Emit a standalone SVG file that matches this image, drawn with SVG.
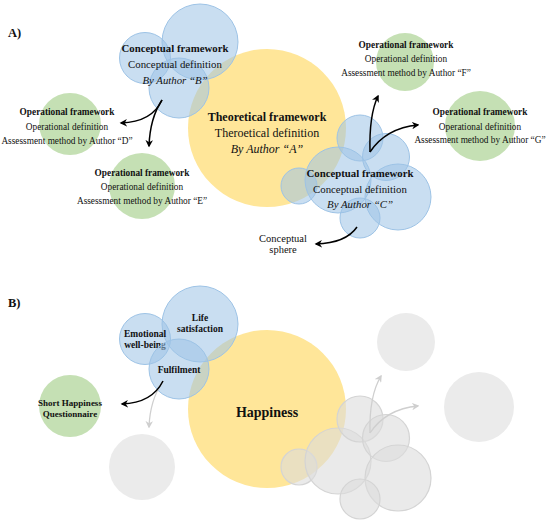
<svg xmlns="http://www.w3.org/2000/svg" width="550" height="524" viewBox="0 0 550 524" font-family="'Liberation Serif', 'DejaVu Serif', serif">
<defs>
<style>
text{fill:#111;text-anchor:middle}
.b{font-weight:bold}
.i{font-style:italic}
.yel{fill:#ffe699}
.grn{fill:#c5e0b4}
.blu{fill:#9dc3e6;fill-opacity:0.55;stroke:#9dc3e6;stroke-width:1}
.gry{fill:#dcdcdc;fill-opacity:0.6;stroke:#d4d4d4;stroke-width:1.2}
.gsolid{fill:#ebebeb}
.ar{fill:none;stroke:#000;stroke-width:1.5;marker-end:url(#ah)}
.ag{fill:none;stroke:#cfcfcf;stroke-width:1.3;marker-end:url(#ahg)}
.lbl{font-size:12.5px;font-weight:bold}
.cf{font-size:10.8px}
.tf{font-size:12px}
.of{font-size:9.3px}
</style>
<marker id="ah" viewBox="0 0 10 10" refX="8" refY="5" markerWidth="7.5" markerHeight="7.5" orient="auto" markerUnits="userSpaceOnUse"><path d="M0,0 L10,5 L0,10 L3,5 z" fill="#000"/></marker>
<marker id="ahg" viewBox="0 0 10 10" refX="8" refY="5" markerWidth="7.5" markerHeight="7.5" orient="auto" markerUnits="userSpaceOnUse"><path d="M0,0 L10,5 L0,10 L3,5 z" fill="#cfcfcf"/></marker>
</defs>
<rect width="550" height="524" fill="#fff"/>

<!-- Panel A -->
<text class="lbl" x="8" y="37" style="text-anchor:start">A)</text>

<g id="theoretical">
<circle class="yel" cx="267" cy="128" r="79"/>
</g>

<g id="conceptualB">
<circle class="blu" cx="200" cy="42" r="38"/>
<circle class="blu" cx="145" cy="58" r="25.5"/>
<circle class="blu" cx="179" cy="88" r="30"/>
<text class="b cf" x="175" y="52">Conceptual framework</text>
<text class="cf" x="175" y="68">Conceptual definition</text>
<text class="i cf" x="175" y="84">By Author “B”</text>
</g>

<g id="conceptualC">
<circle class="blu" cx="299" cy="186" r="18"/>
<circle class="blu" cx="338" cy="180" r="33"/>
<circle class="blu" cx="360" cy="138" r="23"/>
<circle class="blu" cx="386" cy="157" r="23.5"/>
<circle class="blu" cx="398" cy="197" r="33"/>
<circle class="blu" cx="360" cy="218" r="20"/>
<text class="b cf" x="360" y="177">Conceptual framework</text>
<text class="cf" x="360" y="193">Conceptual definition</text>
<text class="i cf" x="360" y="208">By Author “C”</text>
</g>

<g id="theoretical-text">
<text class="b tf" x="267" y="121">Theoretical framework</text>
<text class="tf" x="267" y="137">Theroetical definition</text>
<text class="i tf" x="267" y="153">By Author “A”</text>
</g>

<g id="operationalD">
<circle class="grn" cx="70" cy="124" r="31"/>
<text class="b of" x="67" y="115">Operational framework</text>
<text class="of" x="67" y="130">Operational definition</text>
<text class="of" x="67" y="144">Assessment method by Author “D”</text>
</g>

<g id="operationalE">
<circle class="grn" cx="142" cy="186" r="33"/>
<text class="b of" x="142" y="176">Operational framework</text>
<text class="of" x="142" y="190">Operational definition</text>
<text class="of" x="142" y="204">Assessment method by Author “E”</text>
</g>

<g id="operationalF">
<circle class="grn" cx="405" cy="62" r="29"/>
<text class="b of" x="406" y="48">Operational framework</text>
<text class="of" x="406" y="62">Operational definition</text>
<text class="of" x="406" y="76">Assessment method by Author “F”</text>
</g>

<g id="operationalG">
<circle class="grn" cx="480" cy="126" r="35"/>
<text class="b of" x="480" y="115">Operational framework</text>
<text class="of" x="480" y="130">Operational definition</text>
<text class="of" x="480" y="143">Assessment method by Author “G”</text>
</g>

<g id="sphere-label">
<text x="283" y="242" font-size="10.5">Conceptual</text>
<text x="283" y="253" font-size="10.5">sphere</text>
</g>

<!-- Panel B -->
<text class="lbl" x="8" y="307" style="text-anchor:start">B)</text>

<g id="happiness">
<circle class="yel" cx="267" cy="409" r="79"/>
</g>

<g id="grayF"><circle class="gsolid" cx="406" cy="342" r="29"/></g>
<g id="grayG"><circle class="gsolid" cx="479" cy="407" r="35"/></g>
<g id="grayE"><circle class="gsolid" cx="142" cy="467" r="33"/></g>

<g id="grayCluster">
<circle class="gry" cx="299" cy="467" r="18"/>
<circle class="gry" cx="338" cy="461" r="33"/>
<circle class="gry" cx="360" cy="419" r="23"/>
<circle class="gry" cx="386" cy="438" r="23.5"/>
<circle class="gry" cx="398" cy="478" r="33"/>
<circle class="gry" cx="360" cy="499" r="20"/>
</g>

<g id="happiness-text">
<text class="b" x="267" y="417" font-size="14">Happiness</text>
</g>

<g id="lifeSatisfaction">
<circle class="blu" cx="200" cy="324" r="38"/>
<text class="b" x="200" y="321" font-size="9.5">Life</text>
<text class="b" x="200" y="332" font-size="9.5">satisfaction</text>
</g>
<g id="emotional">
<circle class="blu" cx="145" cy="339" r="25.5"/>
<text class="b" x="145" y="337" font-size="9.5">Emotional</text>
<text class="b" x="145" y="348" font-size="9.5">well-being</text>
</g>
<g id="fulfilment">
<circle class="blu" cx="179" cy="369" r="30"/>
<text class="b" x="179" y="373" font-size="9.5">Fulfilment</text>
</g>

<g id="shq">
<circle class="grn" cx="70" cy="406" r="31"/>
<text class="b" x="70" y="406" font-size="9">Short Happiness</text>
<text class="b" x="70" y="417" font-size="9">Questionnaire</text>
</g>

<g id="connectors">
<path class="ar" d="M162,100 Q152,122 121,123"/>
<path class="ar" d="M162,100 Q150,118 149,146"/>
<path class="ar" d="M370,152 Q369,115 378,96"/>
<path class="ar" d="M370,152 Q386,128 418,125"/>
<path class="ar" d="M357,227 Q346,243 316,244"/>
<path class="ag" d="M163,381 Q150,400 149,427"/>
<path class="ar" d="M163,381 Q152,403 122,404"/>
<path class="ag" d="M370,433 Q369,396 381,376"/>
<path class="ag" d="M370,433 Q386,409 418,406"/>
</g>
</svg>
